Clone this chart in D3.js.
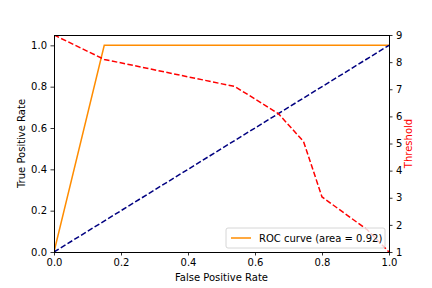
<!DOCTYPE html>
<html>
<head>
<meta charset="utf-8">
<script src="https://cdn.jsdelivr.net/npm/d3@7"></script>
<style>
  body { margin: 0; background: #fff; }
  text { font-family: "DejaVu Sans", sans-serif; }
</style>
</head>
<body>
<div id="chart"></div>
<script>
// Data
var fpr = [0, 0.15, 0.54, 0.67, 0.745, 0.8, 0.935, 1];
var tpr = [0, 1, 1, 1, 1, 1, 1, 1];
var thresholds = [9, 8.1, 7.1, 6.1, 5.07, 3.03, 1.82, 1];
var xTicks = [0, 0.2, 0.4, 0.6, 0.8, 1.0];
var yTicks = [0, 0.2, 0.4, 0.6, 0.8, 1.0];
var thrTicks = [1, 2, 3, 4, 5, 6, 7, 8, 9];
var legendLabel = "ROC curve (area = 0.92)";

var svgWidth = 432;
var svgHeight = 288;
var margin = { top: 35, bottom: 36, left: 54, right: 43 };
var width = svgWidth - margin.left - margin.right;
var height = svgHeight - margin.top - margin.bottom;

var svg = d3.select("#chart")
    .append("svg")
    .attr("width", svgWidth)
    .attr("height", svgHeight);

var chartGroup = svg.append("g")
    .attr("transform", `translate(${margin.left}, ${margin.top})`);

var xScale = d3.scaleLinear().domain([0, 1]).range([0, width]);
var yScale = d3.scaleLinear().domain([0, 1.05]).range([height, 0]);
var thrScale = d3.scaleLinear().domain([1, 9]).range([height, 0]);

var roc = fpr.map((f, i) => ({ x: f, y: tpr[i], t: thresholds[i] }));

// Clip everything to the axes box
svg.append("clipPath").attr("id", "clip")
    .append("rect").attr("width", width).attr("height", height);

var plot = chartGroup.append("g").attr("clip-path", "url(#clip)");

// ROC curve
plot.append("path")
    .datum(roc)
    .attr("fill", "none")
    .attr("stroke", "darkorange")
    .attr("stroke-width", 1.5)
    .attr("d", d3.line().x(d => xScale(d.x)).y(d => yScale(d.y)));

// Chance diagonal
plot.append("path")
    .datum([0, 1])
    .attr("fill", "none")
    .attr("stroke", "navy")
    .attr("stroke-width", 1.5)
    .attr("stroke-dasharray", "5.55,2.4")
    .attr("d", d3.line().x(d => xScale(d)).y(d => yScale(d)));

// Threshold curve on right axis
plot.append("path")
    .datum(roc)
    .attr("fill", "none")
    .attr("stroke", "red")
    .attr("stroke-width", 1.5)
    .attr("stroke-dasharray", "5.55,2.4")
    .attr("d", d3.line().x(d => xScale(d.x)).y(d => thrScale(d.t)));

// Axes
function styleAxis(g) {
    g.select(".domain").remove();
    g.selectAll(".tick line").attr("stroke", "#000").attr("stroke-width", 0.8);
    g.selectAll(".tick text").attr("font-size", "10px").attr("fill", "#000")
        .style("font-family", "DejaVu Sans, sans-serif");
}

chartGroup.append("g")
    .attr("transform", `translate(0, ${height})`)
    .call(d3.axisBottom(xScale).tickValues(xTicks).tickFormat(d3.format(".1f")).tickSizeOuter(0).tickSize(3.5).tickPadding(3.5))
    .call(styleAxis);

chartGroup.append("g")
    .call(d3.axisLeft(yScale).tickValues(yTicks).tickFormat(d3.format(".1f")).tickSizeOuter(0).tickSize(3.5).tickPadding(3.5))
    .call(styleAxis);

chartGroup.append("g")
    .attr("transform", `translate(${width}, 0)`)
    .call(d3.axisRight(thrScale).tickValues(thrTicks).tickFormat(d3.format("d")).tickSizeOuter(0).tickSize(3.5).tickPadding(3.5))
    .call(styleAxis);

// Frame
chartGroup.append("rect")
    .attr("width", width)
    .attr("height", height)
    .attr("fill", "none")
    .attr("stroke", "#000")
    .attr("stroke-width", 1)
    .attr("shape-rendering", "crispEdges");

// Axis labels
chartGroup.append("text")
    .attr("x", width / 2)
    .attr("y", height + 29)
    .attr("text-anchor", "middle")
    .attr("font-size", "10px")
    .text("False Positive Rate");

chartGroup.append("text")
    .attr("transform", `translate(-29, ${height / 2}) rotate(-90)`)
    .attr("text-anchor", "middle")
    .attr("font-size", "10px")
    .text("True Positive Rate");

chartGroup.append("text")
    .attr("transform", `translate(${width + 15}, ${height / 2}) rotate(-90)`)
    .attr("text-anchor", "middle")
    .attr("dy", "0.75em")
    .attr("font-size", "10px")
    .attr("fill", "red")
    .text("Threshold");

// Legend
var legend = chartGroup.append("g")
    .attr("transform", `translate(${width - 163}, ${height - 24})`);

legend.append("rect")
    .attr("width", 159)
    .attr("height", 20)
    .attr("rx", 2)
    .attr("fill", "#fff")
    .attr("fill-opacity", 0.8)
    .attr("stroke", "#ccc")
    .attr("stroke-width", 0.8);

legend.append("line")
    .attr("x1", 5).attr("x2", 25)
    .attr("y1", 10).attr("y2", 10)
    .attr("stroke", "darkorange")
    .attr("stroke-width", 1.5);

legend.append("text")
    .attr("x", 33)
    .attr("y", 10)
    .attr("dy", "0.35em")
    .attr("font-size", "10px")
    .text(legendLabel);
</script>
</body>
</html>
